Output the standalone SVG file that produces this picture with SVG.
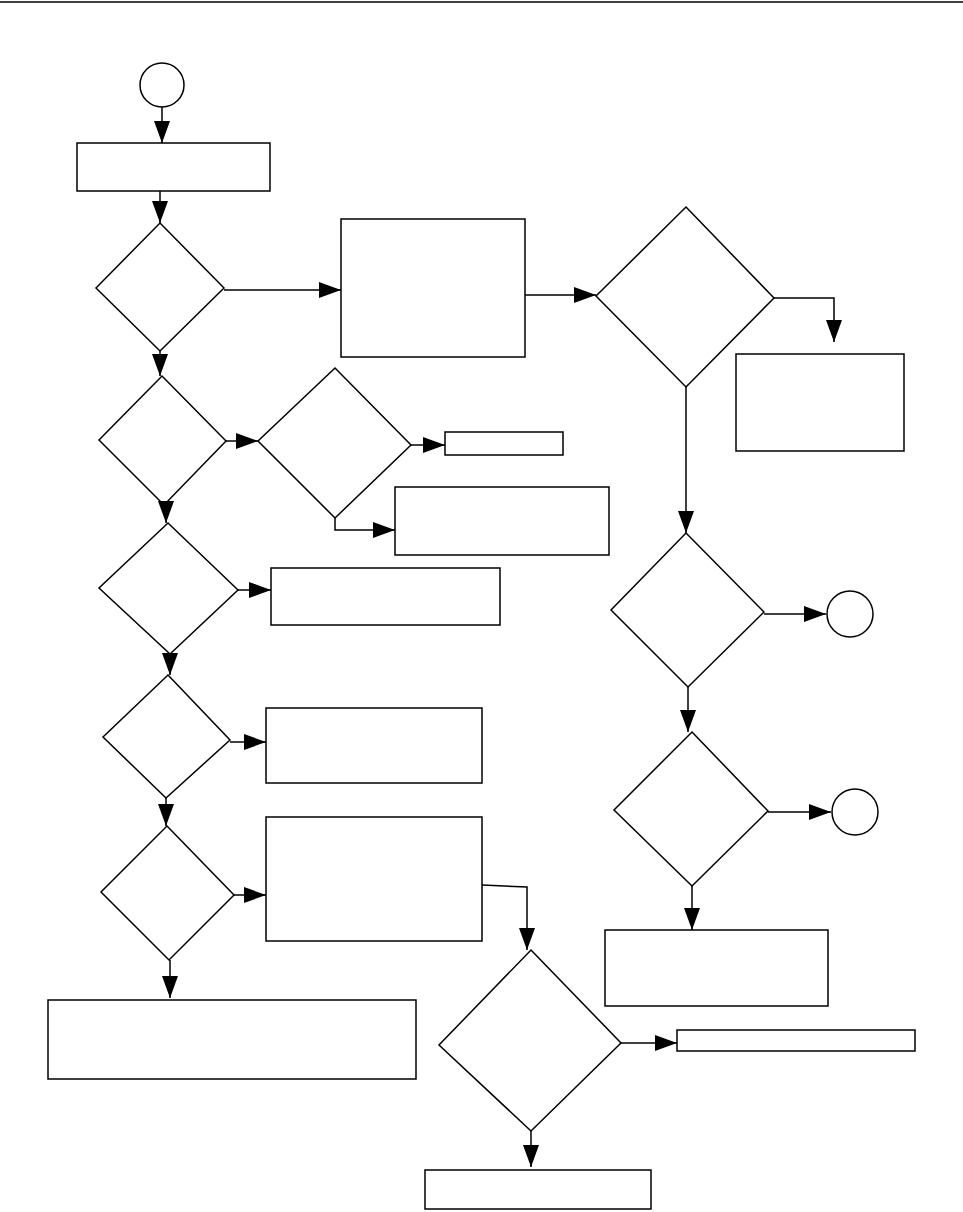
<svg xmlns="http://www.w3.org/2000/svg" width="963" height="1212" viewBox="0 0 963 1212">
<style>
.n{fill:#fff;stroke:#000;stroke-width:1.5}
.c{fill:none;stroke:#000;stroke-width:1.5}
</style>
<defs><marker id="a" markerWidth="22" markerHeight="16" refX="22" refY="8" orient="auto" markerUnits="userSpaceOnUse"><path d="M0,0L22,8L0,16z" fill="#000"/></marker></defs>
<rect width="963" height="1212" fill="#fff"/>
<line x1="0" y1="2" x2="963" y2="2" stroke="#000" stroke-width="1.5"/>
<g id="nodes">
<g id="start"><circle class="n" cx="162" cy="85" r="22"/></g>
<g id="r1"><rect class="n" x="77" y="143" width="193" height="48"/></g>
<g id="d1"><polygon class="n" points="160,223 224,288 160,351 96,288"/></g>
<g id="r2"><rect class="n" x="341" y="219" width="184" height="138"/></g>
<g id="d2"><polygon class="n" points="686,207 774,298 686,387 596,296"/></g>
<g id="r3"><rect class="n" x="736" y="354" width="168" height="97"/></g>
<g id="d3"><polygon class="n" points="686,533 764,612 688,687 611,610"/></g>
<g id="c2"><circle class="n" cx="850" cy="614" r="23"/></g>
<g id="d4"><polygon class="n" points="692,732 768,811 692,886 614,810"/></g>
<g id="c3"><circle class="n" cx="855" cy="812" r="23"/></g>
<g id="r4"><rect class="n" x="605" y="930" width="223" height="76"/></g>
<g id="d5"><polygon class="n" points="162,376 226,441 164,505 99,440"/></g>
<g id="d6"><polygon class="n" points="335,368 411,445 335,518 258,441"/></g>
<g id="r5"><rect class="n" x="445" y="432" width="118" height="23"/></g>
<g id="r6"><rect class="n" x="395" y="487" width="214" height="68"/></g>
<g id="d7"><polygon class="n" points="168,523 238,590 170,654 99,588"/></g>
<g id="r7"><rect class="n" x="271" y="568" width="229" height="57"/></g>
<g id="d8"><polygon class="n" points="168,675 230,740 166,798 103,737"/></g>
<g id="r8"><rect class="n" x="266" y="708" width="216" height="75"/></g>
<g id="d9"><polygon class="n" points="167,826 234,895 169,960 101,892"/></g>
<g id="r9"><rect class="n" x="266" y="817" width="216" height="124"/></g>
<g id="d10"><polygon class="n" points="531,950 621,1043 531,1131 439,1045"/></g>
<g id="r10"><rect class="n" x="677" y="1030" width="238" height="21"/></g>
<g id="r11"><rect class="n" x="425" y="1170" width="226" height="39"/></g>
<g id="r12"><rect class="n" x="48" y="1000" width="368" height="79"/></g>
</g>
<g id="connectors" class="c">
<path class="c" d="M162,107V143" marker-end="url(#a)"/>
<path class="c" d="M160,191V223" marker-end="url(#a)"/>
<path class="c" d="M224,290H341" marker-end="url(#a)"/>
<path class="c" d="M525,295H596" marker-end="url(#a)"/>
<path class="c" d="M774,298H834V342" marker-end="url(#a)"/>
<path class="c" d="M686,387V533" marker-end="url(#a)"/>
<path class="c" d="M764,614H826" marker-end="url(#a)"/>
<path class="c" d="M688,687V732" marker-end="url(#a)"/>
<path class="c" d="M768,812H831" marker-end="url(#a)"/>
<path class="c" d="M692,886V930" marker-end="url(#a)"/>
<path class="c" d="M160,351V376" marker-end="url(#a)"/>
<path class="c" d="M226,441H258" marker-end="url(#a)"/>
<path class="c" d="M411,445H445" marker-end="url(#a)"/>
<path class="c" d="M335,518V530H395" marker-end="url(#a)"/>
<path class="c" d="M166,505V523" marker-end="url(#a)"/>
<path class="c" d="M238,590H271" marker-end="url(#a)"/>
<path class="c" d="M170,654V675" marker-end="url(#a)"/>
<path class="c" d="M230,742H266" marker-end="url(#a)"/>
<path class="c" d="M166,798V826" marker-end="url(#a)"/>
<path class="c" d="M234,895H266" marker-end="url(#a)"/>
<path class="c" d="M482,885L527,887V950" marker-end="url(#a)"/>
<path class="c" d="M621,1043H677" marker-end="url(#a)"/>
<path class="c" d="M531,1131V1167" marker-end="url(#a)"/>
<path class="c" d="M170,960V998" marker-end="url(#a)"/>
</g>
</svg>
